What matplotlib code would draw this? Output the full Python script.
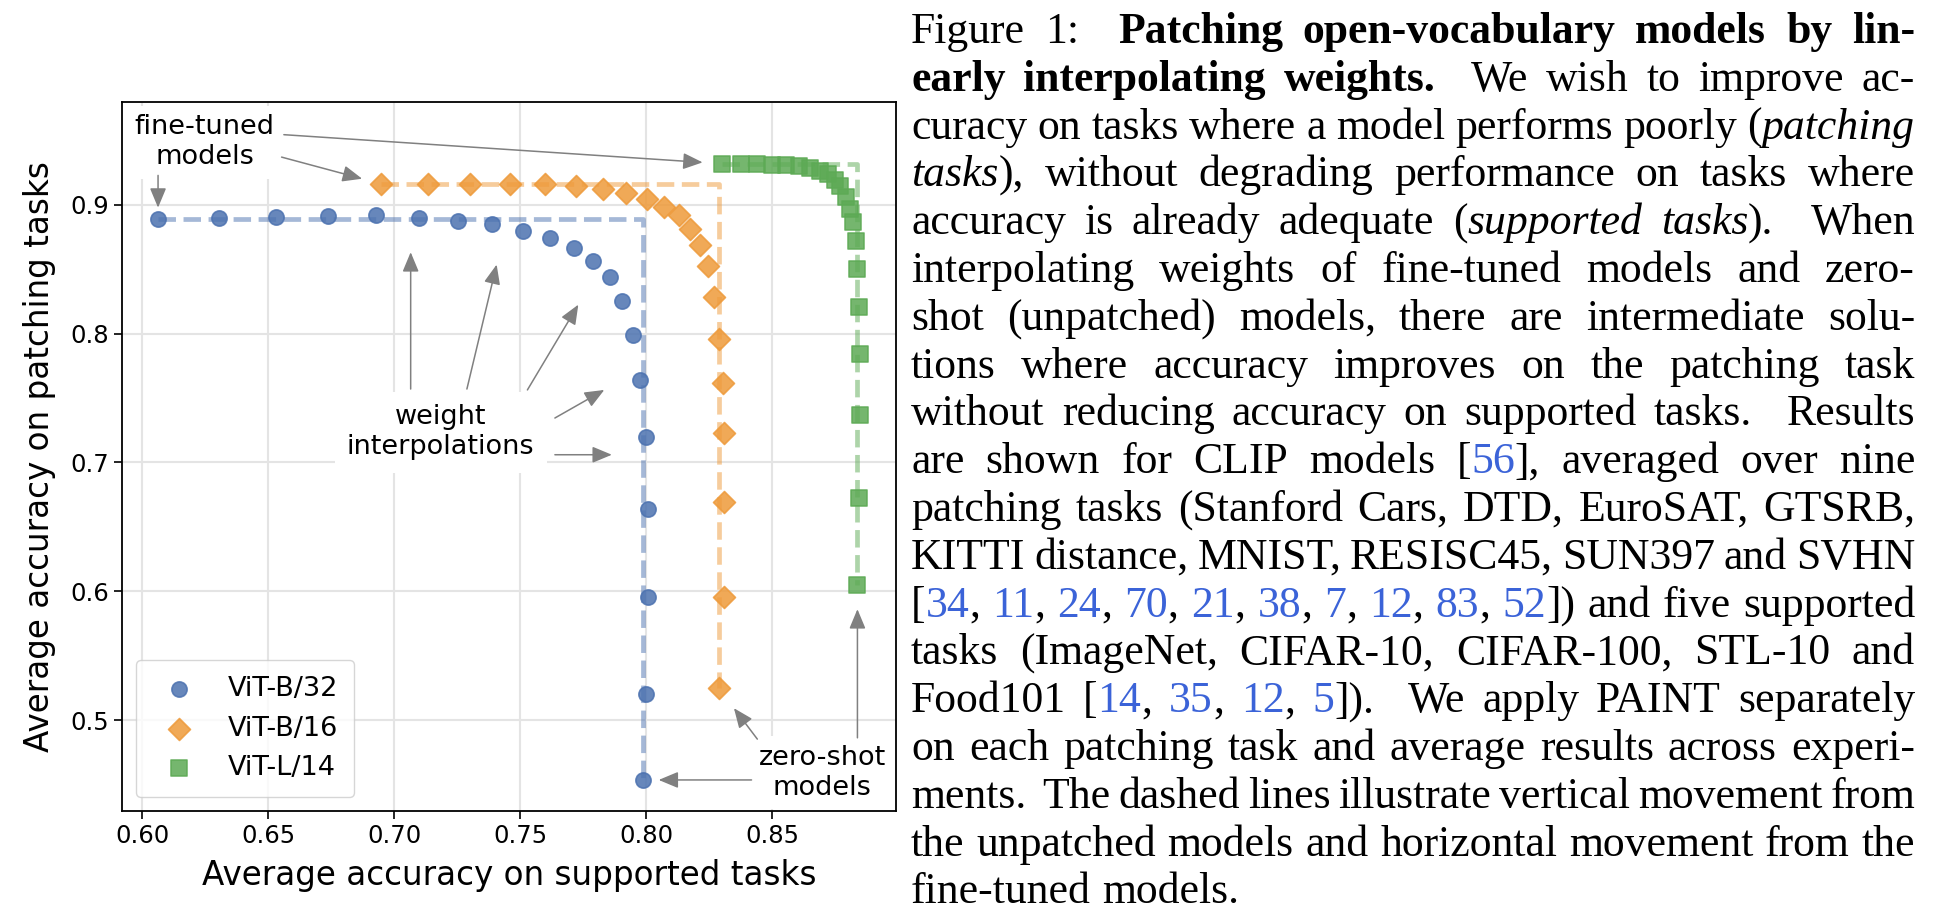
import matplotlib
matplotlib.use('Agg')
import matplotlib.pyplot as plt

# points along each interpolation path, fine-tuned first, zero-shot last
# x = avg accuracy on supported tasks, y = avg accuracy on patching tasks
b32_x = [0.6063, 0.6306, 0.6530, 0.6737, 0.6927, 0.7099, 0.7251, 0.7389, 0.7512, 0.7617, 0.7713,
         0.7788, 0.7854, 0.7905, 0.7946, 0.7976, 0.7997, 0.8006, 0.8008, 0.7998, 0.7988]
b32_y = [0.8886, 0.8894, 0.8907, 0.8912, 0.8917, 0.8896, 0.8873, 0.8847, 0.8798, 0.8744, 0.8663,
         0.8562, 0.8437, 0.8251, 0.7990, 0.7640, 0.7200, 0.6635, 0.5957, 0.5204, 0.4536]
b16_x = [0.6947, 0.7135, 0.7300, 0.7459, 0.7596, 0.7719, 0.7828, 0.7921, 0.8004, 0.8070, 0.8130,
         0.8173, 0.8213, 0.8246, 0.8269, 0.8287, 0.8302, 0.8306, 0.8306, 0.8306, 0.8288]
b16_y = [0.9163, 0.9163, 0.9165, 0.9165, 0.9165, 0.9145, 0.9124, 0.9090, 0.9044, 0.8981, 0.8917,
         0.8814, 0.8684, 0.8523, 0.8287, 0.7959, 0.7619, 0.7228, 0.6694, 0.5957, 0.5246]
l14_x = [0.8300, 0.8375, 0.8440, 0.8500, 0.8555, 0.8605, 0.8650, 0.8690, 0.8722, 0.8749, 0.8769,
         0.8790, 0.8806, 0.8819, 0.8831, 0.8837, 0.8845, 0.8847, 0.8849, 0.8845, 0.8837]
l14_y = [0.9319, 0.9318, 0.9315, 0.9310, 0.9305, 0.9298, 0.9285, 0.9265, 0.9235, 0.9192, 0.9142,
         0.9059, 0.8969, 0.8866, 0.8718, 0.8504, 0.8207, 0.7840, 0.7372, 0.6721, 0.6049]

models = ['ViT-B/32', 'ViT-B/16', 'ViT-L/14']

# caption: *bold*, _italic_, {citation}
caption_lines = [
    "Figure 1:  *Patching open-vocabulary models by lin-*",
    "*early interpolating weights.*  We wish to improve ac-",
    "curacy on tasks where a model performs poorly (_patching_",
    "_tasks_), without degrading performance on tasks where",
    "accuracy is already adequate (_supported tasks_).  When",
    "interpolating weights of fine-tuned models and zero-",
    "shot (unpatched) models, there are intermediate solu-",
    "tions where accuracy improves on the patching task",
    "without reducing accuracy on supported tasks.  Results",
    "are shown for CLIP models [{56}], averaged over nine",
    "patching tasks (Stanford Cars, DTD, EuroSAT, GTSRB,",
    "KITTI distance, MNIST, RESISC45, SUN397 and SVHN",
    "[{34}, {11}, {24}, {70}, {21}, {38}, {7}, {12}, {83}, {52}]) and five supported",
    "tasks (ImageNet, CIFAR-10, CIFAR-100, STL-10 and",
    "Food101 [{14}, {35}, {12}, {5}]).  We apply PAINT separately",
    "on each patching task and average results across experi-",
    "ments.  The dashed lines illustrate vertical movement from",
    "the unpatched models and horizontal movement from the",
    "fine-tuned models.",
]

W, H = 1942, 924
fig = plt.figure(figsize=(W / 100, H / 100), dpi=100)
fig.patch.set_facecolor('white')
ax = fig.add_axes([122 / W, 1 - 811 / H, (896 - 122) / W, (811 - 101.7) / H])

series = [
    (b32_x, b32_y, '#4C72B0', 'o', 120),
    (b16_x, b16_y, '#EE9A3A', 'D', 125),
    (l14_x, l14_y, '#5DAA55', 's', 135),
]
for (xs, ys, c, m, s), name in zip(series, models):
    # dashed path: horizontal from fine-tuned, vertical from zero-shot
    ax.plot([xs[0], xs[-1], xs[-1]], [ys[0], ys[0], ys[-1]], '--', color=c,
            alpha=0.5, lw=3.4, zorder=2)
    ax.scatter(xs, ys, s=s, marker=m, color=c, alpha=0.85, edgecolors=c,
               linewidths=1.2, label=name, zorder=3)

ax.set_xlim(0.592, 0.899)
ax.set_ylim(0.4295, 0.980)
ax.set_xticks([0.60, 0.65, 0.70, 0.75, 0.80, 0.85])
ax.set_yticks([0.5, 0.6, 0.7, 0.8, 0.9])
ax.grid(True, color='#e4e4e4', lw=1.5)
ax.set_axisbelow(True)
for sp in ax.spines.values():
    sp.set_linewidth(1.3)
    sp.set_color('black')
ax.tick_params(labelsize=17.5, length=6, width=1.2)
ax.set_xlabel('Average accuracy on supported tasks', fontsize=23.5, labelpad=8)
ax.set_ylabel('Average accuracy on patching tasks', fontsize=23.5, labelpad=10)

leg = ax.legend(loc='lower left', fontsize=19.5, scatterpoints=1, framealpha=0.8,
                edgecolor='#cccccc', handletextpad=0.8, borderpad=0.6)

# annotations
arrow = dict(arrowstyle='-|>,head_length=0.6,head_width=0.25', color='#808080',
             lw=1.1, mutation_scale=20, shrinkA=0)
box = dict(boxstyle='square,pad=0.3', fc='white', ec='none')
afs = 19.5

ax.text(0.6247, 0.9484, 'fine-tuned\nmodels', fontsize=afs, ha='center', va='center',
        multialignment='center', bbox=box, zorder=5)
ax.annotate('', xy=(b32_x[0], b32_y[0]), xytext=(b32_x[0], 0.9228),
            arrowprops=dict(arrow, shrinkB=8.5), zorder=5)
ax.annotate('', xy=(b16_x[0], b16_y[0]), xytext=(0.6553, 0.9370),
            arrowprops=dict(arrow, shrinkB=14), zorder=5)
ax.annotate('', xy=(l14_x[0], l14_y[0]), xytext=(0.6562, 0.9544),
            arrowprops=dict(arrow, shrinkB=14), zorder=5)

ax.text(0.7184, 0.7233, 'weight\ninterpolations', fontsize=afs, ha='center', va='center',
        multialignment='center', bbox=dict(boxstyle='square,pad=0.45', fc='white', ec='none'),
        zorder=5)
interp_arrows = [
    ((0.7065, 0.7570), (0.7065, 0.8632)),
    ((0.7288, 0.7570), (0.7406, 0.8536)),
    ((0.7528, 0.7563), (0.7730, 0.8225)),
    ((0.7637, 0.7345), (0.7833, 0.7563)),
    ((0.7637, 0.7060), (0.7863, 0.7060)),
]
for start, tip in interp_arrows:
    ax.annotate('', xy=tip, xytext=start, arrowprops=dict(arrow, shrinkB=0), zorder=5)

ax.text(0.8698, 0.4593, 'zero-shot\nmodels', fontsize=afs, ha='center', va='center',
        multialignment='center', bbox=box, zorder=5)
ax.annotate('', xy=(l14_x[-1], l14_y[-1]), xytext=(l14_x[-1], 0.4863),
            arrowprops=dict(arrow, shrinkB=17.4), zorder=5)
ax.annotate('', xy=(b16_x[-1], b16_y[-1]), xytext=(0.8440, 0.4853),
            arrowprops=dict(arrow, shrinkB=17.8), zorder=5)
ax.annotate('', xy=(b32_x[-1], b32_y[-1]), xytext=(0.8417, b32_y[-1]),
            arrowprops=dict(arrow, shrinkB=11), zorder=5)


# caption on the right, justified word by word
def split_line(line):
    words, pieces = [], []
    state = {'b': False, 'i': False, 'c': False}
    buf, gap = '', 0
    for ch in line + ' ':
        if ch in '*_{}':
            if buf:
                pieces.append((buf, dict(state)))
                buf = ''
            key = {'*': 'b', '_': 'i', '{': 'c', '}': 'c'}[ch]
            state[key] = not state[key]
        elif ch == ' ':
            if buf:
                pieces.append((buf, dict(state)))
                buf = ''
            if pieces:
                words.append((gap, pieces))
                pieces, gap = [], 0
            gap += 1
        else:
            buf += ch
    words[0] = (0, words[0][1])
    return words


cap_size = 31.5
cap_left, cap_right = 911, 1915
base0, pitch = 43, 47.8
cite_color = '#3B63D8'

layout = []
for line in caption_lines:
    objs = []
    for gap, pieces in split_line(line):
        ws = []
        for txt, st in pieces:
            ws.append(fig.text(0, 0, txt, fontsize=cap_size, family='Liberation Serif',
                               weight='bold' if st['b'] else 'normal',
                               style='italic' if st['i'] else 'normal',
                               color=cite_color if st['c'] else 'black',
                               ha='left', va='baseline'))
        objs.append((gap, ws))
    layout.append(objs)

fig.canvas.draw()
r = fig.canvas.get_renderer()
for li, objs in enumerate(layout):
    widths = [[t.get_window_extent(r).width for t in ws] for g, ws in objs]
    natural = sum(sum(w) for w in widths)
    ngap = sum(g for g, ws in objs)
    if li < len(layout) - 1:
        unit = (cap_right - cap_left - natural) / ngap
    else:
        unit = 0.25 * cap_size * 100 / 72
    x = cap_left
    y = 1 - (base0 + li * pitch) / H
    for (g, ws), wl in zip(objs, widths):
        x += g * unit
        for t, w in zip(ws, wl):
            t.set_position((x / W, y))
            x += w

fig.savefig('out.png', dpi=100)
